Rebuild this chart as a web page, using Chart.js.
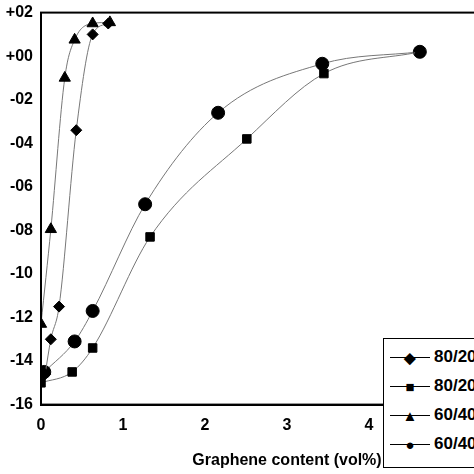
<!DOCTYPE html>
<html><head><script src="https://cdn.jsdelivr.net/npm/chart.js"></script>
<style>html,body{margin:0;padding:0;overflow:hidden;background:#fff;width:474px;height:474px}
#w{position:relative;width:620px;height:474px}
#leg{position:absolute;left:383px;top:338px;width:200px;height:128px;border:1px solid #000;background:#fff;font:bold 17px Arial,"Liberation Sans",sans-serif}
.it{position:absolute;left:6px;height:20px;line-height:20px}
.ln{position:absolute;left:0;top:10px;width:40px;height:1px;background:#000}
.mk{position:absolute;left:20px;top:10px;transform:translate(-50%,-50%);font-size:15px;line-height:15px}
.tx{position:absolute;left:44px;top:0}
</style></head><body><div id="w"><canvas id="c" width="620" height="474"></canvas>
<div id="leg"></div></div>
<script>
const yTickLabels=["-16","-14","-12","-10","-08","-06","-04","-02","+00","+02"];
const yTickValues=[-16,-14,-12,-10,-8,-6,-4,-2,0,2];
const seriesNames=["80/20","80/20","60/40","60/40"];
const diamondX=[0.05,0.12,0.22,0.43,0.63,0.82];
const diamondY=[-14.6,-13.0,-11.5,-3.4,1.0,1.5];
const squareX=[0,0.38,0.63,1.33,2.51,3.45,4.62];
const squareY=[-15.0,-14.5,-13.4,-8.3,-3.8,-0.8,0.2];
const triangleX=[0,0.12,0.29,0.41,0.63,0.84];
const triangleY=[-12.3,-7.95,-1.0,0.75,1.5,1.55];
const circleX=[0.04,0.41,0.63,1.27,2.16,3.43,4.62];
const circleY=[-14.5,-13.1,-11.7,-6.8,-2.6,-0.35,0.2];
const mk=(xs,ys)=>xs.map((x,i)=>({x,y:ys[i]}));
const styles=['rectRot','rect','triangle','circle'];
const sizes=[5.5,6,6.5,6.5];
const data=[mk(diamondX,diamondY),mk(squareX,squareY),mk(triangleX,triangleY),mk(circleX,circleY)];
const frame={id:'frame',afterDraw(c){const a=c.chartArea,x=c.ctx;x.save();x.strokeStyle='#000';x.lineWidth=2;x.strokeRect(a.left,a.top,a.right-a.left,a.bottom-a.top);x.restore();}};
new Chart(document.getElementById('c'),{type:'scatter',
data:{datasets:data.map((d,i)=>({label:seriesNames[i],data:d,showLine:true,borderColor:'#777',borderWidth:1,cubicInterpolationMode:'monotone',pointStyle:styles[i],pointRadius:sizes[i],pointBackgroundColor:'#000',pointBorderColor:'#000'}))},
options:{responsive:false,animation:false,layout:{padding:{top:9,right:87,left:0,bottom:0}},
plugins:{legend:{display:false},tooltip:{enabled:false}},
scales:{x:{type:'linear',min:0,max:6,grid:{display:false,drawTicks:true,tickLength:5,tickColor:'#000'},border:{color:'#000',width:2},
ticks:{stepSize:1,color:'#000',font:{size:16,weight:'bold',family:'Arial'},padding:6},
title:{display:true,text:'Graphene content (vol%)',color:'#000',font:{size:16,weight:'bold',family:'Arial'},padding:{top:10}}},
y:{type:'linear',min:-16,max:2,afterFit(s){s.width=41;},afterBuildTicks(s){s.ticks=yTickValues.map(v=>({value:v}));},grid:{display:false,tickLength:5,tickColor:'#000'},border:{color:'#000',width:2},
ticks:{color:'#000',font:{size:16,weight:'bold',family:'Arial'},padding:3,callback:(v,i)=>yTickLabels[i]}}}},plugins:[frame]});
const leg=document.getElementById('leg');const sym=['◆','■','▲','●'];
seriesNames.forEach((n,i)=>{leg.innerHTML+=`<div class="it" style="top:${8+i*29}px"><div class="ln"></div><div class="mk">${sym[i]}</div><div class="tx">${n}</div></div>`;});
</script></body></html>
